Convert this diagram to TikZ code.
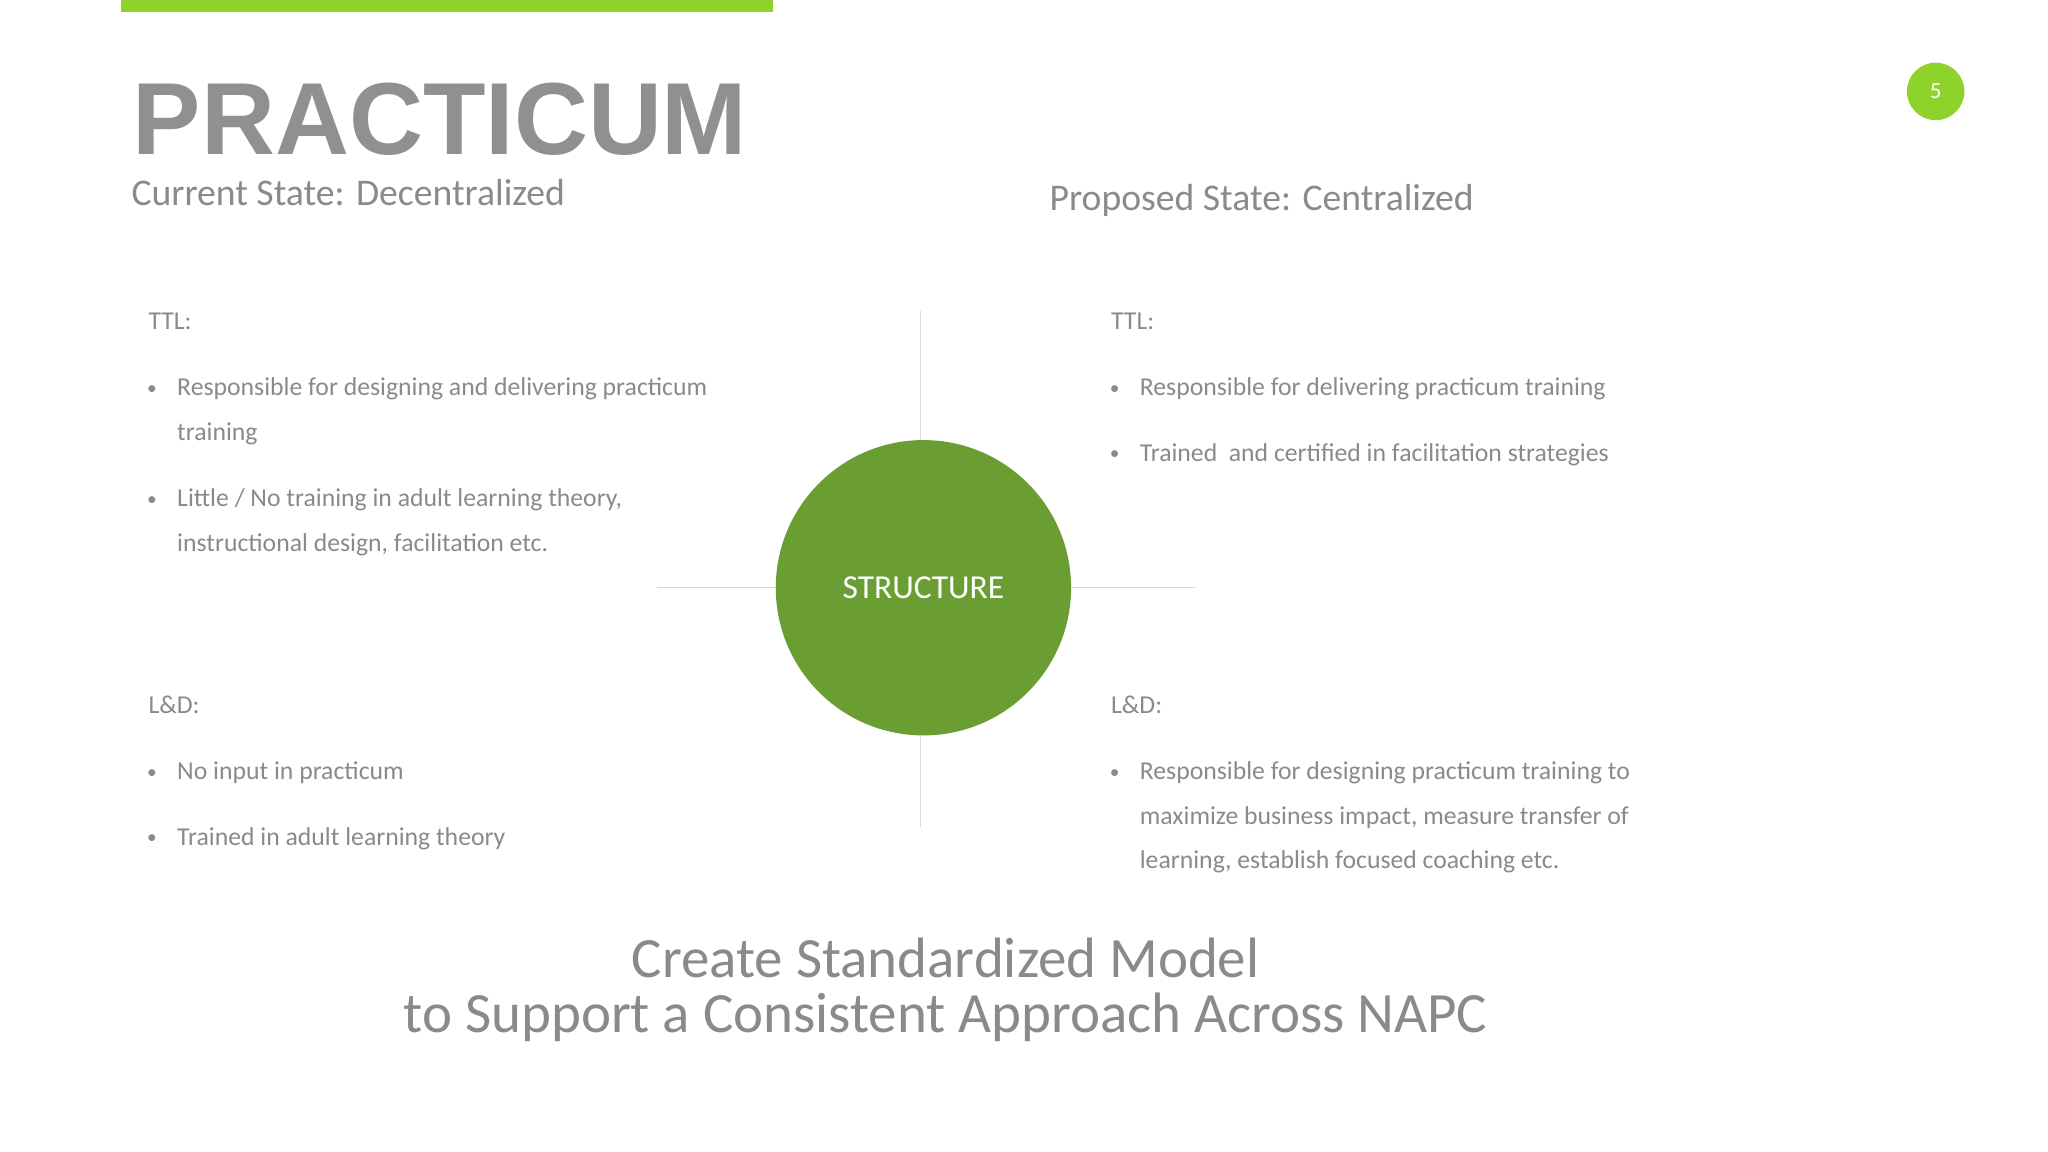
\documentclass[tikz,border=0pt]{standalone}
\usepackage{fontspec}
\setmainfont{Carlito}
\newfontfamily\arialf{Liberation Sans}
\definecolor{txt}{HTML}{8A8A8A}
\definecolor{ttl}{HTML}{8E9092}
\definecolor{barg}{HTML}{8DD32C}
\definecolor{circg}{HTML}{6A9E32}
\definecolor{lineg}{HTML}{D9D9D9}
\tikzset{
 body/.style={font=\fontsize{5.6}{9.7}\selectfont, text=txt, anchor=base west, inner sep=0},
 bul/.style={font=\fontsize{4.2}{9.7}\selectfont, text=txt, anchor=base west, inner sep=0},
 sub/.style={font=\fontsize{8.2}{10}\selectfont, text=txt, anchor=base west, inner sep=0},
 axis/.style={draw=lineg, line width=0.25pt}
}
\begin{document}
\begin{tikzpicture}[x=0.01cm,y=-0.01cm]
\useasboundingbox[fill=white] (0,0) rectangle (1568,882);
\fill[barg] (93,0) rectangle (592,9);
\node[font=\arialf\bfseries\fontsize{22.3}{24}\selectfont, text=ttl, anchor=base west, inner sep=0] (title) at (101,118) {PRACTICUM};
\node[circle, fill=barg, minimum size=44*0.2845pt, inner sep=0, text=white, font=\fontsize{5}{5}\selectfont] (pg) at (1482,70) {5};
\node[sub] (cur) at (100,157) {Current State: Decentralized};
\node[sub] (prop) at (803,161) {Proposed State: Centralized};
% axes
\coordinate (t) at (705,238); \coordinate (b) at (705,633);
\coordinate (l) at (503,450); \coordinate (r) at (916,450);
\draw[axis] (t) -- (b); \draw[axis] (l) -- (r);
\node[circle, fill=circg, minimum size=226*0.2845pt, inner sep=0, text=white, font=\fontsize{7.3}{8}\selectfont] (c) at (707,450) {STRUCTURE};
% left top
\node[body] (lt) at (113,252) {TTL:};
\node[bul] (lb1) at (112,302) {•};
\node[body] (l1a) at (135,303) {Responsible for designing and delivering practicum};
\node[body] (l1b) at (135,337) {training};
\node[bul] (lb2) at (112,387) {•};
\node[body] (l2a) at (135,388) {Little / No training in adult learning theory,};
\node[body] (l2b) at (135,422) {instructional design, facilitation etc.};
% left bottom
\node[body] (ld) at (113,546) {L\&D:};
\node[bul] (lb3) at (112,596) {•};
\node[body] (l3) at (135,597) {No input in practicum};
\node[bul] (lb4) at (112,646) {•};
\node[body] (l4) at (135,647) {Trained in adult learning theory};
% right top
\node[body] (rt) at (850,252) {TTL:};
\node[bul] (rb1) at (849,302) {•};
\node[body] (r1) at (872,303) {Responsible for delivering practicum training};
\node[bul] (rb2) at (849,352) {•};
\node[body] (r2) at (872,353) {Trained\ \ and certified in facilitation strategies};
% right bottom
\node[body] (rd) at (850,546) {L\&D:};
\node[bul] (rb3) at (849,596) {•};
\node[body] (r3a) at (872,597) {Responsible for designing practicum training to};
\node[body] (r3b) at (872,631) {maximize business impact, measure transfer of};
\node[body] (r3c) at (872,665) {learning, establish focused coaching etc.};
% bottom
\node[font=\fontsize{12.4}{12}\selectfont, text=txt, align=center, inner sep=0] (bot) at (724,758) {Create Standardized Model\\to Support a Consistent Approach Across NAPC};
\end{tikzpicture}
\end{document}
